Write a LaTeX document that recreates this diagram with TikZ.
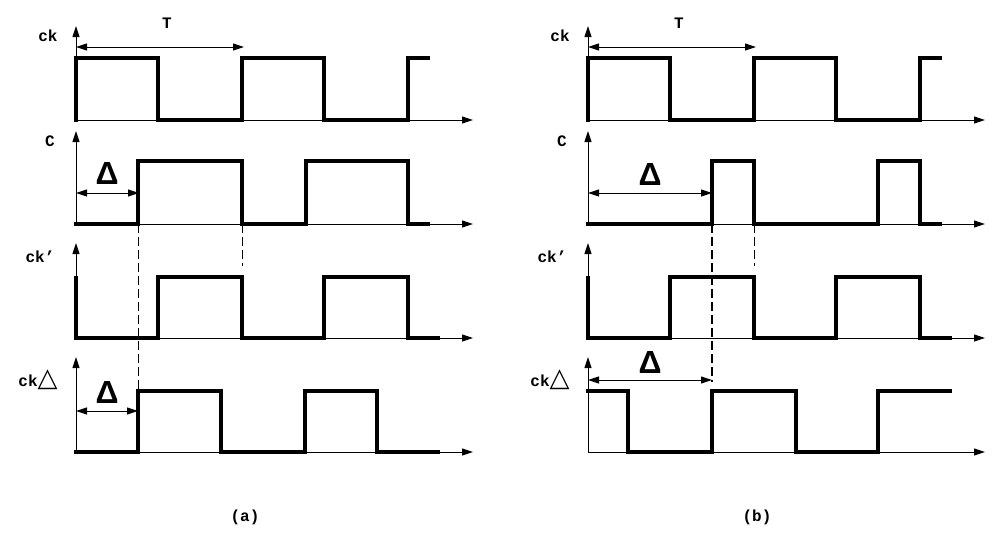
\documentclass[tikz,border=0pt]{standalone}
\usepackage{fontspec}
\setmainfont{Liberation Mono}
\newfontfamily\dsans{Liberation Sans}
\newfontfamily\djv{DejaVu Sans}
\usetikzlibrary{arrows.meta}
\begin{document}
\begin{tikzpicture}[x=1pt,y=-1pt,
  ax/.style={line width=1pt,-{Triangle[length=11pt,width=7pt]}},
  sig/.style={line width=3.6pt,line cap=rect,line join=miter},
  dim/.style={line width=1pt,{Triangle[length=11pt,width=7pt]}-{Triangle[length=11pt,width=7pt]}},
  lbl/.style={font=\fontsize{16}{16}\selectfont\bfseries},
  dl/.style={font=\dsans\fontsize{32}{32}\selectfont\bfseries},
  dsh/.style={line width=1pt,dash pattern=on 9pt off 4pt}]
\useasboundingbox (0,0) rectangle (998,555);
% ===== panel a =====
\draw[ax] (76,120) -- (76,26); \draw[ax] (76,120) -- (473,120);
\draw[ax] (76,224) -- (76,131); \draw[ax] (76,224) -- (473,224);
\draw[ax] (76,338) -- (76,243); \draw[ax] (76,338) -- (473,338);
\draw[ax] (76,452) -- (76,357); \draw[ax] (76,452) -- (473,452);
\node[lbl] at (48,36) {ck}; \node[lbl] at (50,141) {C};
\node[lbl] at (40,257) {ck'};
\node[lbl,inner sep=0] at (38,380) {ck{\djv\fontsize{26}{26}\selectfont △}};
\draw[sig] (76,120) -- (76,58) -- (158,58) -- (158,120) -- (242,120) -- (242,58) -- (324,58) -- (324,120) -- (408,120) -- (408,58) -- (428,58);
\draw[dim] (76,47) -- (244,47); \node[lbl] at (167,23) {T};
\draw[sig] (76,224) -- (138,224) -- (138,161) -- (242,161) -- (242,224) -- (306,224) -- (306,161) -- (408,161) -- (408,224) -- (428,224);
\draw[dim] (76,193) -- (139,193); \node[dl] at (107,173) {Δ};
\draw[sig] (76,278) -- (76,338) -- (158,338) -- (158,277) -- (242,277) -- (242,338) -- (324,338) -- (324,277) -- (408,277) -- (408,338) -- (438,338);
\draw[sig] (76,452) -- (138,452) -- (138,391) -- (221,391) -- (221,452) -- (305,452) -- (305,391) -- (377,391) -- (377,452) -- (438,452);
\draw[dim] (76,411) -- (138,411); \node[dl] at (107,392) {Δ};
\draw[dsh] (138,224) -- (138,452); \draw[dsh] (242,224) -- (242,266);
\node[lbl] at (245,517) {(a)};
% ===== panel b =====
\draw[ax] (588,120) -- (588,26); \draw[ax] (588,120) -- (985,120);
\draw[ax] (588,224) -- (588,131); \draw[ax] (588,224) -- (985,224);
\draw[ax] (588,338) -- (588,243); \draw[ax] (588,338) -- (985,338);
\draw[ax] (588,452) -- (588,357); \draw[ax] (588,452) -- (985,452);
\node[lbl] at (560,36) {ck}; \node[lbl] at (562,141) {C};
\node[lbl] at (552,257) {ck'};
\node[lbl,inner sep=0] at (550,380) {ck{\djv\fontsize{26}{26}\selectfont △}};
\draw[sig] (588,120) -- (588,58) -- (670,58) -- (670,120) -- (754,120) -- (754,58) -- (836,58) -- (836,120) -- (920,120) -- (920,58) -- (940,58);
\draw[dim] (588,47) -- (756,47); \node[lbl] at (679,23) {T};
\draw[sig] (588,224) -- (712,224) -- (712,161) -- (754,161) -- (754,224) -- (878,224) -- (878,161) -- (920,161) -- (920,224) -- (940,224);
\draw[dim] (588,193) -- (712,193); \node[dl] at (650,174) {Δ};
\draw[sig] (588,278) -- (588,338) -- (670,338) -- (670,277) -- (754,277) -- (754,338) -- (836,338) -- (836,277) -- (920,277) -- (920,338) -- (950,338);
\draw[sig] (588,391) -- (628,391) -- (628,452) -- (712,452) -- (712,391) -- (796,391) -- (796,452) -- (878,452) -- (878,391) -- (950,391);
\draw[dim] (588,380) -- (712,380); \node[dl] at (650,362) {Δ};
\draw[dsh,line width=1.8pt] (712,224) -- (712,382); \draw[dsh] (754,224) -- (754,266);
\node[lbl] at (757,517) {(b)};
\end{tikzpicture}
\end{document}
